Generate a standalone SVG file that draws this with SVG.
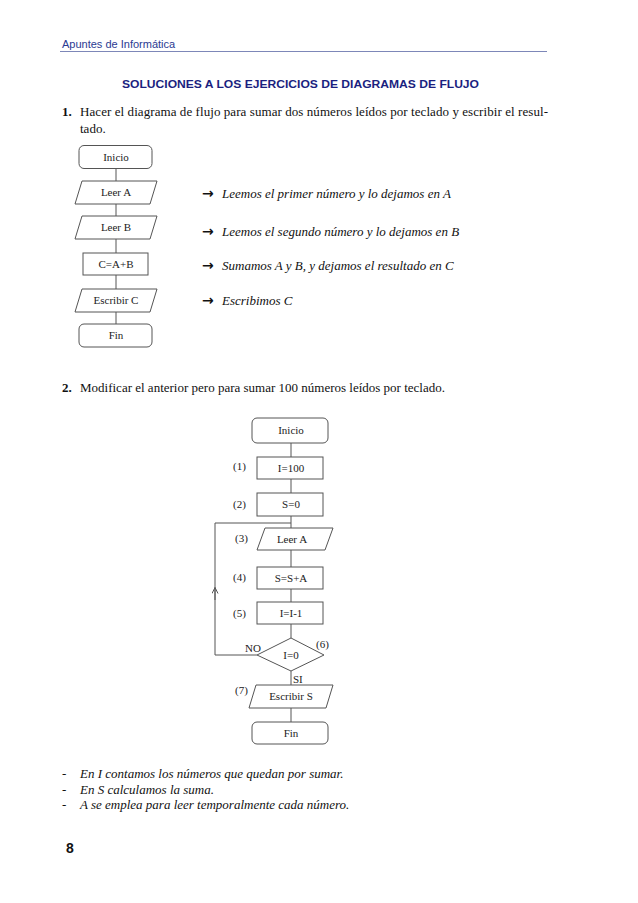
<svg xmlns="http://www.w3.org/2000/svg" width="638" height="903" viewBox="0 0 638 903">
<style>
.hdr{font-family:"Liberation Sans",Arial,sans-serif;font-size:11px;fill:#2b3a92}
.ttl{font-family:"Liberation Sans",Arial,sans-serif;font-size:11.5px;font-weight:bold;fill:#1b1f80}
.body{font-family:"Liberation Serif","Times New Roman",serif;font-size:13px;fill:#111}
.num{font-family:"Liberation Serif","Times New Roman",serif;font-size:13px;font-weight:bold;fill:#111}
.note{font-family:"Liberation Serif","Times New Roman",serif;font-size:13px;font-style:italic;fill:#111}
.arrowtxt{font-family:"DejaVu Sans",sans-serif;font-size:14px;font-weight:bold;fill:#111}
.fc{font-family:"Liberation Serif","Times New Roman",serif;font-size:11px;fill:#222;text-anchor:middle}
.lbl{font-family:"Liberation Serif","Times New Roman",serif;font-size:11px;fill:#222}
.shape{fill:#fff;stroke:#555;stroke-width:1}
.conn{fill:none;stroke:#555;stroke-width:1}
.pg{font-family:"Liberation Sans",Arial,sans-serif;font-size:14px;font-weight:bold;fill:#111}
</style>
<defs>
<marker id="arr" markerWidth="8" markerHeight="8" refX="6" refY="3" orient="auto" markerUnits="userSpaceOnUse">
<path d="M0,0 L6,3 L0,6" fill="none" stroke="#555" stroke-width="1"/>
</marker>
</defs>
<rect x="0" y="0" width="638" height="903" fill="#fff"/>
<text class="hdr" x="62" y="48">Apuntes de Informática</text>
<line x1="60" y1="51.5" x2="547" y2="51.5" stroke="#7d87b8" stroke-width="1"/>
<text class="ttl" x="122" y="88" textLength="357" lengthAdjust="spacingAndGlyphs">SOLUCIONES  A LOS EJERCICIOS DE DIAGRAMAS DE FLUJO</text>

<text class="num" x="62" y="116">1.</text>
<text class="body" x="80" y="116" textLength="468" lengthAdjust="spacing">Hacer el diagrama de flujo para sumar dos números leídos por teclado y escribir el resul-</text>
<text class="body" x="80" y="133">tado.</text>

<g id="connectors1">
<line class="conn" x1="116" y1="168" x2="116" y2="181"/>
<line class="conn" x1="116" y1="204" x2="116" y2="216"/>
<line class="conn" x1="116" y1="239" x2="116" y2="253"/>
<line class="conn" x1="116" y1="275" x2="116" y2="289"/>
<line class="conn" x1="116" y1="312" x2="116" y2="324"/>
</g>
<g id="f1-inicio"><rect class="shape" x="79" y="145.5" width="73" height="23" rx="5"/><text class="fc" x="116" y="161">Inicio</text></g>
<g id="f1-leerA"><polygon class="shape" points="82,181 157,181 150,204 75,204"/><text class="fc" x="116" y="196">Leer A</text></g>
<g id="f1-leerB"><polygon class="shape" points="82,216 157,216 150,239 75,239"/><text class="fc" x="116" y="231">Leer B</text></g>
<g id="f1-suma"><rect class="shape" x="83" y="253" width="65" height="22"/><text class="fc" x="116" y="268">C=A+B</text></g>
<g id="f1-escribir"><polygon class="shape" points="82,289 157,289 150,312 75,312"/><text class="fc" x="116" y="304">Escribir C</text></g>
<g id="f1-fin"><rect class="shape" x="79" y="324" width="73" height="23" rx="5"/><text class="fc" x="116" y="339">Fin</text></g>

<text class="arrowtxt" x="202" y="198">→</text><text class="note" x="222" y="198">Leemos el primer número y lo dejamos en A</text>
<text class="arrowtxt" x="202" y="236">→</text><text class="note" x="222" y="236">Leemos el segundo número y lo dejamos en B</text>
<text class="arrowtxt" x="202" y="270">→</text><text class="note" x="222" y="270">Sumamos A y B, y dejamos el resultado en C</text>
<text class="arrowtxt" x="202" y="305">→</text><text class="note" x="222" y="305">Escribimos C</text>

<text class="num" x="62" y="392">2.</text>
<text class="body" x="80" y="392">Modificar el anterior pero para sumar 100 números leídos por teclado.</text>

<g id="connectors2">
<line class="conn" x1="291" y1="443" x2="291" y2="457"/>
<line class="conn" x1="291" y1="479" x2="291" y2="493"/>
<line class="conn" x1="291" y1="516" x2="291" y2="528"/>
<line class="conn" x1="291" y1="550" x2="291" y2="567"/>
<line class="conn" x1="291" y1="589" x2="291" y2="602"/>
<line class="conn" x1="291" y1="624" x2="291" y2="638"/>
<line class="conn" x1="291" y1="671" x2="291" y2="685"/>
<line class="conn" x1="291" y1="708" x2="291" y2="722"/>
<polyline class="conn" points="257,655 215,655 215,523 291,523"/>
<line class="conn" x1="215" y1="600" x2="215" y2="587.5" marker-end="url(#arr)"/>
</g>
<g id="f2-inicio"><rect class="shape" x="252" y="418" width="76" height="25" rx="5"/><text class="fc" x="291" y="434">Inicio</text></g>
<g id="f2-i100"><rect class="shape" x="257" y="457" width="66" height="22"/><text class="fc" x="291" y="472">I=100</text></g>
<g id="f2-s0"><rect class="shape" x="257" y="493" width="66" height="23"/><text class="fc" x="291" y="508">S=0</text></g>
<g id="f2-leerA"><polygon class="shape" points="265,528 333,528 325,550 257,550"/><text class="fc" x="292" y="543">Leer A</text></g>
<g id="f2-ssa"><rect class="shape" x="257" y="567" width="66" height="22"/><text class="fc" x="291" y="582">S=S+A</text></g>
<g id="f2-ii1"><rect class="shape" x="257" y="602" width="66" height="22"/><text class="fc" x="291" y="617">I=I-1</text></g>
<g id="f2-cond"><polygon class="shape" points="291,638 324,655 291,671 257,655"/><text class="fc" x="291" y="659">I=0</text></g>
<g id="f2-escribir"><polygon class="shape" points="256,685 333,685 326,708 249,708"/><text class="fc" x="291" y="700">Escribir S</text></g>
<g id="f2-fin"><rect class="shape" x="252" y="722" width="76" height="22" rx="5"/><text class="fc" x="291" y="737">Fin</text></g>

<text class="lbl" x="233" y="470">(1)</text>
<text class="lbl" x="233" y="508">(2)</text>
<text class="lbl" x="235" y="542">(3)</text>
<text class="lbl" x="233" y="581">(4)</text>
<text class="lbl" x="233" y="617">(5)</text>
<text class="lbl" x="316" y="648">(6)</text>
<text class="lbl" x="235" y="694">(7)</text>
<text class="lbl" x="245" y="652">NO</text>
<text class="lbl" x="293" y="683">SI</text>

<text class="body" x="62" y="778">-</text>
<text class="note" x="80" y="778">En I contamos los números que quedan por sumar.</text>
<text class="body" x="62" y="794">-</text>
<text class="note" x="80" y="794">En S calculamos la suma.</text>
<text class="body" x="62" y="809">-</text>
<text class="note" x="80" y="809">A se emplea para leer temporalmente cada número.</text>

<text class="pg" x="66" y="853">8</text>
</svg>
